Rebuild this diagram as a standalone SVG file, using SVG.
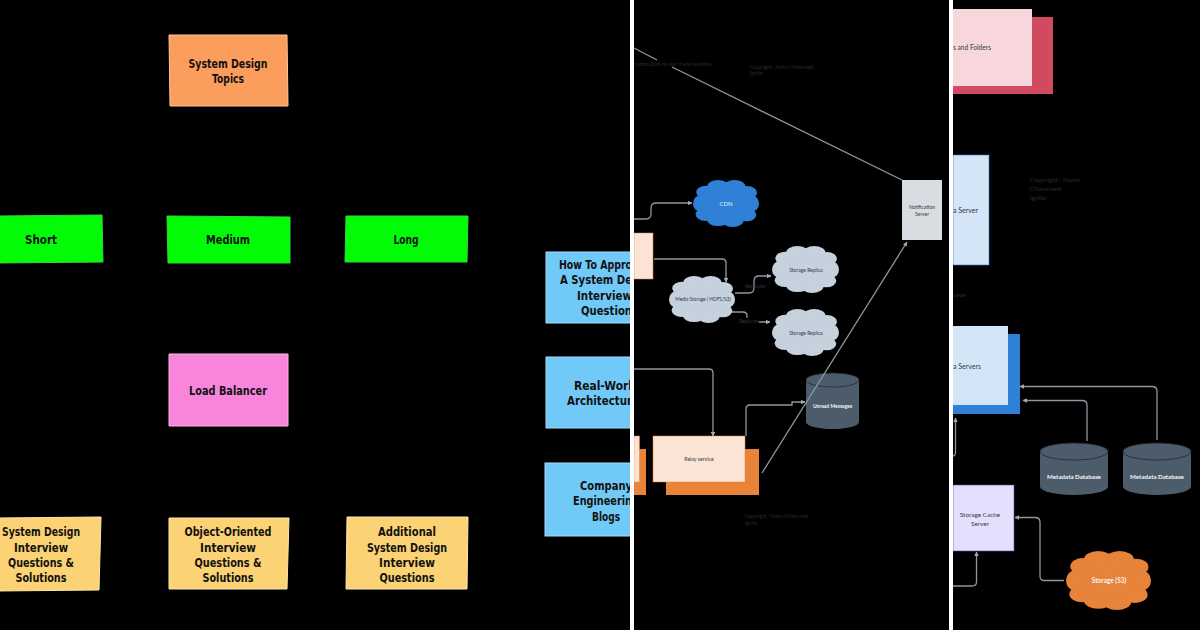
<svg xmlns="http://www.w3.org/2000/svg" xmlns:xlink="http://www.w3.org/1999/xlink" width="1200" height="630" viewBox="0 0 1200 630">
<style>
text{font-family:"Lato","Noto Sans",sans-serif;text-anchor:middle}
.h{font-family:"DejaVu Sans",sans-serif;font-weight:700;font-size:12.900px;fill:#111;transform:translateY(-1px)}
.hs{text-anchor:start}
.orange{fill:#fb9d5c;stroke:#ffc79a;stroke-width:1}
.green{fill:#02fb07;stroke:#35d83a;stroke-width:1}
.pink{fill:#f984dc;stroke:#ffb3ec;stroke-width:1}
.yellow{fill:#fcd374;stroke:#ffe6a8;stroke-width:1}
.blue{fill:#71c9f8;stroke:#a2defc;stroke-width:1}
.lbl{font-size:6.500px;fill:#333b47}
.lblb{font-size:6.500px;fill:#f4f6f8;font-weight:700}
.dim{font-size:5px;fill:#262c34;text-anchor:start}
.conn{fill:none;stroke:#8d97a3;stroke-width:1.300}
.db{fill:#4d5c6b}
.dbtop{fill:#4d5c6b;stroke:#1f2933;stroke-width:.8}
.pale{fill:#fbe4d5;stroke:#e8833a;stroke-width:.5}
.back{fill:#e8833a}
</style>
<defs>
<marker id="a" viewBox="0 0 6 6" refX="5.500" refY="3" markerWidth="4.500" markerHeight="4.500" markerUnits="userSpaceOnUse" orient="auto"><path d="M0 0L6 3L0 6Z" fill="#a3acb6"/></marker>
<g id="cloud">
<ellipse cx="50" cy="50" rx="47" ry="40"/>
<ellipse cx="20" cy="26" rx="15" ry="14"/><ellipse cx="38" cy="15" rx="17" ry="15"/><ellipse cx="63" cy="15" rx="17" ry="15"/><ellipse cx="82" cy="27" rx="15" ry="14"/>
<ellipse cx="12" cy="50" rx="12" ry="18"/><ellipse cx="88" cy="50" rx="12" ry="18"/>
<ellipse cx="19" cy="73" rx="15" ry="14"/><ellipse cx="38" cy="84" rx="17" ry="14"/><ellipse cx="60" cy="85" rx="17" ry="15"/><ellipse cx="81" cy="74" rx="15" ry="14"/>
</g>
<clipPath id="p1"><rect x="0" y="0" width="630" height="630"/></clipPath>
</defs>
<rect width="1200" height="630" fill="#000"/>

<g id="topics"><polygon class="orange" points="169,35 287,35 288,106 170,106"/><text class="h" x="228" y="69" textLength="79" lengthAdjust="spacingAndGlyphs">System Design</text><text class="h" x="228" y="84" textLength="32" lengthAdjust="spacingAndGlyphs">Topics</text></g>
<g id="short"><polygon class="green" points="-2,216 102,215 103,262 -2,263"/><text class="h" x="41" y="244.500" textLength="32" lengthAdjust="spacingAndGlyphs">Short</text></g>
<g id="medium"><polygon class="green" points="167,216 290,217 290,263 168,263"/><text class="h" x="228" y="244.500" textLength="44" lengthAdjust="spacingAndGlyphs">Medium</text></g>
<g id="long"><polygon class="green" points="346,216 468,216 467,262 345,262"/><text class="h" x="406" y="244.500" textLength="25" lengthAdjust="spacingAndGlyphs">Long</text></g>
<g id="load-balancer"><polygon class="pink" points="169,354 288,354 288,426 169,426"/><text class="h" x="228" y="395.500" textLength="78" lengthAdjust="spacingAndGlyphs">Load Balancer</text></g>
<g id="q1"><polygon class="yellow" points="-2,518 101,517 99,590 -2,591"/><text class="h" x="41" y="537" textLength="78" lengthAdjust="spacingAndGlyphs">System Design</text><text class="h" x="41" y="552.500" textLength="54" lengthAdjust="spacingAndGlyphs">Interview</text><text class="h" x="41" y="567.500" textLength="66" lengthAdjust="spacingAndGlyphs">Questions &amp;</text><text class="h" x="41" y="582.500" textLength="51" lengthAdjust="spacingAndGlyphs">Solutions</text></g>
<g id="q2"><polygon class="yellow" points="169,518 289,518 287,589 169,589"/><text class="h" x="228" y="537" textLength="87" lengthAdjust="spacingAndGlyphs">Object-Oriented</text><text class="h" x="228" y="552.500" textLength="56" lengthAdjust="spacingAndGlyphs">Interview</text><text class="h" x="228" y="567.500" textLength="67" lengthAdjust="spacingAndGlyphs">Questions &amp;</text><text class="h" x="228" y="582.500" textLength="51" lengthAdjust="spacingAndGlyphs">Solutions</text></g>
<g id="q3"><polygon class="yellow" points="347,517 468,517 467,589 346,589"/><text class="h" x="407" y="536.500" textLength="58" lengthAdjust="spacingAndGlyphs">Additional</text><text class="h" x="407" y="552.500" textLength="80" lengthAdjust="spacingAndGlyphs">System Design</text><text class="h" x="407" y="567.500" textLength="56" lengthAdjust="spacingAndGlyphs">Interview</text><text class="h" x="407" y="582.500" textLength="55" lengthAdjust="spacingAndGlyphs">Questions</text></g>
<g clip-path="url(#p1)">
<g id="approach"><rect class="blue" x="546" y="252" width="90" height="71"/><text class="h hs" x="559" y="269.500" textLength="73" lengthAdjust="spacingAndGlyphs">How To Appro</text><text class="h hs" x="560" y="285" textLength="72" lengthAdjust="spacingAndGlyphs">A System De</text><text class="h hs" x="577" y="300.500" textLength="55" lengthAdjust="spacingAndGlyphs">Interview</text><text class="h hs" x="581" y="315.500" textLength="51" lengthAdjust="spacingAndGlyphs">Question</text></g>
<g id="real-world"><rect class="blue" x="546" y="357" width="90" height="71"/><text class="h hs" x="574" y="390.500" textLength="58" lengthAdjust="spacingAndGlyphs">Real-Worl</text><text class="h hs" x="567" y="405.500" textLength="65" lengthAdjust="spacingAndGlyphs">Architectur</text></g>
<g id="company"><rect class="blue" x="545" y="463" width="90" height="73"/><text class="h hs" x="580" y="490.500" textLength="52" lengthAdjust="spacingAndGlyphs">Company</text><text class="h hs" x="573" y="505.500" textLength="59" lengthAdjust="spacingAndGlyphs">Engineerin</text><text class="h hs" x="592" y="521.500" textLength="28" lengthAdjust="spacingAndGlyphs">Blogs</text></g>
</g>

<g id="connectors">
<path class="conn" d="M634 48L657 60M672 67L902 180"/>
<path class="conn" marker-end="url(#a)" d="M634 219H646Q651 219 651 214V208Q651 203 656 203H692"/>
<path class="conn" marker-end="url(#a)" d="M654 259H722Q726 259 726 263V282"/>
<path class="conn" marker-end="url(#a)" d="M735 293H749Q754 293 754 288V281Q754 276 759 276H771"/>
<path class="conn" marker-end="url(#a)" d="M732 312H743Q747 312 747 316V318M759 322H770"/>
<path class="conn" marker-end="url(#a)" d="M634 369H709Q713 369 713 373V436"/>
<path class="conn" marker-end="url(#a)" d="M746 436V409Q746 405 750 405H792V402H805"/>
<path class="conn" marker-end="url(#a)" d="M1087 441V405Q1087 400.500 1082 400.500H1023"/>
<path class="conn" marker-end="url(#a)" d="M1157 440V391Q1157 386.500 1152 386.500H1020"/>
<path class="conn" marker-end="url(#a)" d="M953 456Q955.500 456 955.500 452V418"/>
<path class="conn" marker-end="url(#a)" d="M1064 580.500H1044Q1040 580.500 1040 576V522Q1040 517.500 1035 517.500H1015"/>
<path class="conn" marker-end="url(#a)" d="M953 586H972Q976.500 586 976.500 582V552"/>
</g>

<g id="cdn"><use xlink:href="#cloud" href="#cloud" fill="#2f80d6" transform="translate(693 180) scale(.66 .47)"/><text class="lbl" x="726" y="206" style="fill:#eef4fb;font-size:6px">CDN</text></g>
<g id="replica1"><use href="#cloud" fill="#c5d1dc" transform="translate(772 246) scale(.67 .47)"/><text class="lbl" x="806" y="272" style="font-size:5px">Storage Replica</text></g>
<g id="replica2"><use href="#cloud" fill="#c5d1dc" transform="translate(772 309) scale(.67 .47)"/><text class="lbl" x="806" y="335" style="font-size:5px">Storage Replica</text></g>
<g id="media"><use href="#cloud" fill="#c5d1dc" transform="translate(669 276) scale(.66 .47)"/><text class="lbl" x="703" y="301" style="font-size:4.800px">Media Storage ( HDFS/S3)</text></g>
<g id="s3"><use href="#cloud" fill="#e8833a" transform="translate(1066 551) scale(.85 .59)"/><text class="lblb" x="1109" y="583">Storage (S3)</text></g>

<text class="dim" x="745" y="288" style="fill:#2e353e">Replicate</text>
<text class="dim" x="739" y="323" style="fill:#2e353e">Replicate</text>
<text class="dim" x="634" y="66">ication push to user if who is online</text>
<text class="dim" x="750" y="69">Copyright : Naina Chaturvedi</text><text class="dim" x="750" y="75">Ignito</text>
<text class="dim" x="745" y="518">Copyright : Naina Chaturvedi</text><text class="dim" x="745" y="525">Ignito</text>
<text class="dim" x="1030" y="182" style="font-size:6.500px">Copyright : Naina</text><text class="dim" x="1030" y="191" style="font-size:6.500px">Chaturvedi</text><text class="dim" x="1030" y="200" style="font-size:6.500px">Ignito</text>
<text class="dim" x="953" y="297" style="font-size:6px">ueue</text>

<g id="notification"><rect x="902" y="180" width="40" height="60" fill="#d9dde1"/><text class="lbl" x="922" y="209" style="font-size:5px">Notification</text><text class="lbl" x="922" y="215.500" style="font-size:5px">Server</text></g>
<g id="left-box"><rect x="634" y="233" width="19" height="46" class="pale"/></g>
<g id="relay-left"><rect x="634" y="449" width="12" height="46" class="back"/><rect x="634" y="436" width="5.500" height="46" class="pale"/></g>
<g id="relay"><rect x="666" y="449" width="93" height="46" class="back"/><rect x="653" y="436" width="92" height="46" class="pale"/><text class="lbl" x="699" y="461" style="font-size:5.200px">Relay service</text></g>
<g id="unread"><path class="db" d="M806 380V422A26.500 7 0 0 0 859 422V380Z"/><ellipse class="dbtop" cx="832.500" cy="380" rx="26.500" ry="7"/><text class="lblb" x="832.500" y="408" style="font-size:5px">Unread Messages</text></g>
<path class="conn" marker-end="url(#a)" d="M762 473L907 242"/>

<g id="files"><rect x="953" y="17" width="100" height="77" fill="#d24a60"/><rect x="953" y="9" width="79" height="77" fill="#f8d7dc"/><text class="lbl" x="953" y="50" style="text-anchor:start;font-size:6.600px">s and Folders</text></g>
<g id="server"><rect x="953" y="155" width="36" height="110" fill="#d3e5f7" stroke="#2f80d6" stroke-width=".6"/><text class="lbl" x="953" y="212.500" style="text-anchor:start;font-size:7px">a Server</text></g>
<g id="servers"><rect x="953" y="334" width="67" height="80" fill="#2f80d6"/><rect x="953" y="326" width="55" height="79" fill="#d3e5f7"/><text class="lbl" x="953" y="368.500" style="text-anchor:start;font-size:7px">a Servers</text></g>
<g id="db1"><path class="db" d="M1040 451.500V486.500A34 8.500 0 0 0 1108 486.500V451.500Z"/><ellipse class="dbtop" cx="1074" cy="451.500" rx="34" ry="8.500"/><text class="lblb" x="1074" y="478.500" style="font-size:6.200px">Metadata Database</text></g>
<g id="db2"><path class="db" d="M1123 451.500V486.500A34 8.500 0 0 0 1191 486.500V451.500Z"/><ellipse class="dbtop" cx="1157" cy="451.500" rx="34" ry="8.500"/><text class="lblb" x="1157" y="478.500" style="font-size:6.200px">Metadata Database</text></g>
<g id="cache"><rect x="953" y="485" width="61" height="66" fill="#e3dffc" stroke="#5b4bb0" stroke-width=".6"/><text class="lbl" x="980" y="516.500" style="font-size:6.400px">Storage Cache</text><text class="lbl" x="980" y="525.500" style="font-size:6.400px">Server</text></g>

<rect id="divider1" x="630" y="0" width="4" height="630" fill="#fff"/>
<rect id="divider2" x="949" y="0" width="4" height="630" fill="#fff"/>
</svg>
